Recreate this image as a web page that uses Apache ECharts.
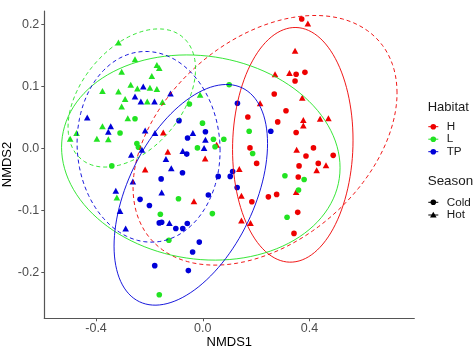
<!DOCTYPE html>
<html>
<head>
<meta charset="utf-8">
<script src="https://cdn.jsdelivr.net/npm/echarts@6/dist/echarts.min.js"></script>
<style>
  html, body { margin: 0; padding: 0; background: #ffffff; }
  #chart { width: 474px; height: 349px; }
</style>
</head>
<body>
<div id="chart"></div>
<script>
// NMDS ordination scores, grouped by habitat and season
const hCold = [
  [0.371, 0.209], [0.350, 0.120], [0.383, 0.123], [0.346, 0.109], [0.268, 0.088],
  [0.312, 0.061], [0.281, 0.043], [0.350, 0.026], [0.415, 0.001], [0.387, -0.012],
  [0.489, -0.011], [0.202, -0.024], [0.361, -0.028], [0.433, -0.024], [0.358, -0.046],
  [0.169, 0.051], [0.177, 0.001], [0.277, -0.074], [0.246, -0.078], [0.184, -0.086],
  [0.356, -0.103], [0.342, -0.137]
];
const hHot = [
  [0.394, 0.202], [0.346, 0.158], [0.271, 0.120], [0.325, 0.122], [0.373, 0.082],
  [0.215, 0.073], [0.377, 0.046], [0.377, 0.037], [0.440, 0.048], [0.471, 0.049],
  [0.352, -0.002], [0.462, -0.027], [0.427, -0.035], [0.350, -0.070], [0.145, -0.076],
  [0.145, -0.116], [0.179, -0.120], [0.137, -0.033], [0.052, 0.006], [0.009, -0.016],
  [-0.131, -0.005], [-0.148, 0.026], [-0.216, -0.034], [-0.033, -0.085]
];
const lCold = [
  [-0.254, 0.048], [-0.310, 0.025], [-0.247, 0.008], [-0.241, 0.002], [-0.341, -0.028],
  [-0.050, 0.072], [0.099, 0.103], [-0.001, 0.041], [0.040, 0.015], [0.079, 0.015],
  [0.046, 0.003], [-0.020, 0.001], [0.174, 0.028], [0.187, -0.008], [-0.091, -0.081],
  [-0.159, -0.106], [-0.127, -0.148], [0.036, -0.105], [-0.163, -0.236], [0.308, -0.044],
  [0.380, -0.050], [0.359, -0.067], [0.316, -0.111]
];
const lHot = [
  [-0.316, 0.171], [-0.254, 0.144], [-0.304, 0.124], [-0.191, 0.117], [-0.172, 0.135],
  [-0.163, 0.130], [-0.376, 0.093], [-0.316, 0.092], [-0.270, 0.103], [-0.245, 0.097],
  [-0.198, 0.098], [-0.172, 0.096], [-0.291, 0.080], [-0.304, 0.068], [-0.208, 0.076],
  [-0.281, 0.049], [-0.376, 0.036], [-0.397, 0.016], [-0.354, 0.015], [-0.497, 0.016],
  [-0.473, 0.025], [-0.151, 0.075], [-0.010, 0.087], [-0.322, -0.079]
];
const tpCold = [
  [-0.089, 0.045], [0.010, 0.027], [-0.057, 0.017], [0.130, 0.073], [0.255, 0.028],
  [-0.060, -0.009], [-0.076, -0.039], [-0.156, -0.049], [0.058, -0.045], [0.103, -0.045],
  [0.112, -0.037], [0.129, -0.063], [0.021, -0.075], [-0.235, -0.082], [-0.200, -0.092],
  [-0.163, -0.120], [-0.154, -0.119], [-0.101, -0.129], [-0.075, -0.129], [-0.058, -0.121],
  [-0.013, -0.151], [-0.038, -0.167], [-0.180, -0.189], [-0.054, -0.197]
];
const tpHot = [
  [-0.223, 0.100], [-0.254, 0.084], [-0.232, 0.076], [-0.181, 0.076], [-0.433, 0.050],
  [-0.345, 0.036], [-0.354, 0.027], [-0.216, 0.029], [-0.179, 0.025], [-0.228, -0.002],
  [-0.268, -0.010], [-0.121, 0.089], [-0.037, 0.025], [0.010, 0.014], [0.005, 0.001],
  [-0.075, -0.004], [-0.138, -0.017], [-0.118, -0.032], [-0.154, -0.071], [-0.262, -0.053],
  [-0.326, -0.068], [-0.310, -0.101], [-0.289, -0.129], [-0.125, -0.120]
];

// Confidence ellipses: [centre x, centre y, half-width x, half-height y, correlation]
const ellH_Cold  = [0.3375, 0.006, 0.2258, 0.1894, 0.04];
const ellH_Hot   = [0.2335, 0.0133, 0.4948, 0.2015, 0.38];
const ellL_Cold  = [-0.0073, -0.0145, 0.522, 0.1656, -0.10];
const ellL_Hot   = [-0.266, 0.0816, 0.239, 0.1115, 0.42];
const ellTP_Cold = [-0.0448, -0.0747, 0.2877, 0.1781, 0.465];
const ellTP_Hot  = [-0.2031, 0.0028, 0.268, 0.1539, -0.04];

const xTicks = [-0.4, 0.0, 0.4];
const yTicks = [-0.2, -0.1, 0.0, 0.1, 0.2];
const habitats = ['H', 'L', 'TP'];
const seasons = ['Cold', 'Hot'];

const COLORS = { H: '#ee0000', L: '#22e322', TP: '#0000d8' };

function ellipsePath(p) {
  const [cx, cy, rx, ry, rho] = p;
  const d = Math.acos(rho);
  const pts = [];
  const n = 120;
  for (let i = 0; i <= n; i++) {
    const t = (i / n) * 2 * Math.PI;
    pts.push([cx + rx * Math.cos(t), cy + ry * Math.cos(t - d)]);
  }
  return pts;
}

function pointSeries(name, data, color, hot) {
  return {
    name: name,
    type: 'scatter',
    data: data,
    symbol: hot ? 'triangle' : 'circle',
    symbolSize: hot ? [6.6, 6] : 5.6,
    itemStyle: { color: color, opacity: 1 },
    z: 2,
    silent: true
  };
}

function ellipseSeries(params, color, hot) {
  return {
    type: 'line',
    data: ellipsePath(params),
    showSymbol: false,
    symbol: 'none',
    smooth: false,
    lineStyle: { color: color, width: 1, opacity: 0.9, type: hot ? [4, 3] : 'solid' },
    z: 3,
    silent: true
  };
}

const chart = echarts.init(document.getElementById('chart'), null, { renderer: 'canvas' });

const axisColor = '#555555';
const labelColor = '#4d4d4d';
const fontFamily = '"Liberation Sans", Arial, sans-serif';

// Legend keys: a short line with the point symbol on it
const graphics = [];
function keyText(x, y, str, size) {
  return {
    type: 'text', x: x, y: y, silent: true,
    style: { text: str, fill: '#1a1a1a', font: size + 'px ' + fontFamily, textVerticalAlign: 'middle', textAlign: 'left' }
  };
}
graphics.push(keyText(427.7, 107.3, 'Habitat', 13));
habitats.forEach(function (h, i) {
  const y = 126.7 + i * 12.5;
  graphics.push({ type: 'line', silent: true, shape: { x1: 428.3, y1: y, x2: 438.3, y2: y }, style: { stroke: COLORS[h], lineWidth: 1 } });
  graphics.push({ type: 'circle', silent: true, shape: { cx: 433.3, cy: y, r: 2.8 }, style: { fill: COLORS[h] } });
  graphics.push(keyText(446.7, y, h, 11.7));
});
graphics.push(keyText(427.7, 181.7, 'Season', 13.4));
seasons.forEach(function (s, i) {
  const y = 202.3 + i * 12.7;
  graphics.push({ type: 'line', silent: true, shape: { x1: 428.3, y1: y, x2: 438.3, y2: y }, style: { stroke: '#000', lineWidth: 1 } });
  if (s === 'Cold') {
    graphics.push({ type: 'circle', silent: true, shape: { cx: 433.3, cy: y, r: 2.8 }, style: { fill: '#000' } });
  } else {
    graphics.push({ type: 'polygon', silent: true, shape: { points: [[433.3, y - 3.3], [436.6, y + 2.6], [430, y + 2.6]] }, style: { fill: '#000' } });
  }
  graphics.push(keyText(446.7, y, s, 11.7));
});
// axis titles
graphics.push({
  type: 'text', x: 7.5, y: 164.5, rotation: Math.PI / 2, silent: true,
  style: { text: 'NMDS2', fill: '#000', font: '13px ' + fontFamily, textAlign: 'center', textVerticalAlign: 'middle' }
});
graphics.push({
  type: 'text', x: 229.3, y: 342.3, silent: true,
  style: { text: 'NMDS1', fill: '#000', font: '13px ' + fontFamily, textAlign: 'center', textVerticalAlign: 'middle' }
});

const option = {
  animation: false,
  backgroundColor: '#ffffff',
  grid: { left: 44.3, right: 59.7, top: 11, bottom: 30.7, containLabel: false, outerBoundsMode: 'none' },
  xAxis: {
    type: 'value',
    min: -0.594, max: 0.793,
    axisLine: { onZero: false, lineStyle: { color: axisColor, width: 1.2 } },
    axisTick: { show: true, length: 3, customValues: xTicks, lineStyle: { color: axisColor, width: 1 } },
    axisLabel: {
      customValues: xTicks, margin: 4, color: labelColor, fontSize: 12.5, fontFamily: fontFamily,
      formatter: function (v) { return (Math.abs(v) < 1e-9 ? 0 : v).toFixed(1); }
    },
    splitLine: { show: false }
  },
  yAxis: {
    type: 'value',
    min: -0.274, max: 0.222,
    axisLine: { onZero: false, lineStyle: { color: axisColor, width: 1.2 } },
    axisTick: { show: true, length: 3, customValues: yTicks, lineStyle: { color: axisColor, width: 1 } },
    axisLabel: {
      customValues: yTicks, margin: 5, color: labelColor, fontSize: 12.5, fontFamily: fontFamily,
      formatter: function (v) { return (Math.abs(v) < 1e-9 ? 0 : v).toFixed(1); }
    },
    splitLine: { show: false }
  },
  graphic: graphics,
  series: [
    pointSeries('H Cold', hCold, COLORS.H, false),
    pointSeries('H Hot', hHot, COLORS.H, true),
    pointSeries('L Cold', lCold, COLORS.L, false),
    pointSeries('L Hot', lHot, COLORS.L, true),
    pointSeries('TP Cold', tpCold, COLORS.TP, false),
    pointSeries('TP Hot', tpHot, COLORS.TP, true),
    ellipseSeries(ellH_Cold, COLORS.H, false),
    ellipseSeries(ellH_Hot, COLORS.H, true),
    ellipseSeries(ellL_Cold, COLORS.L, false),
    ellipseSeries(ellL_Hot, COLORS.L, true),
    ellipseSeries(ellTP_Cold, COLORS.TP, false),
    ellipseSeries(ellTP_Hot, COLORS.TP, true)
  ]
};

chart.setOption(option);
</script>
</body>
</html>
